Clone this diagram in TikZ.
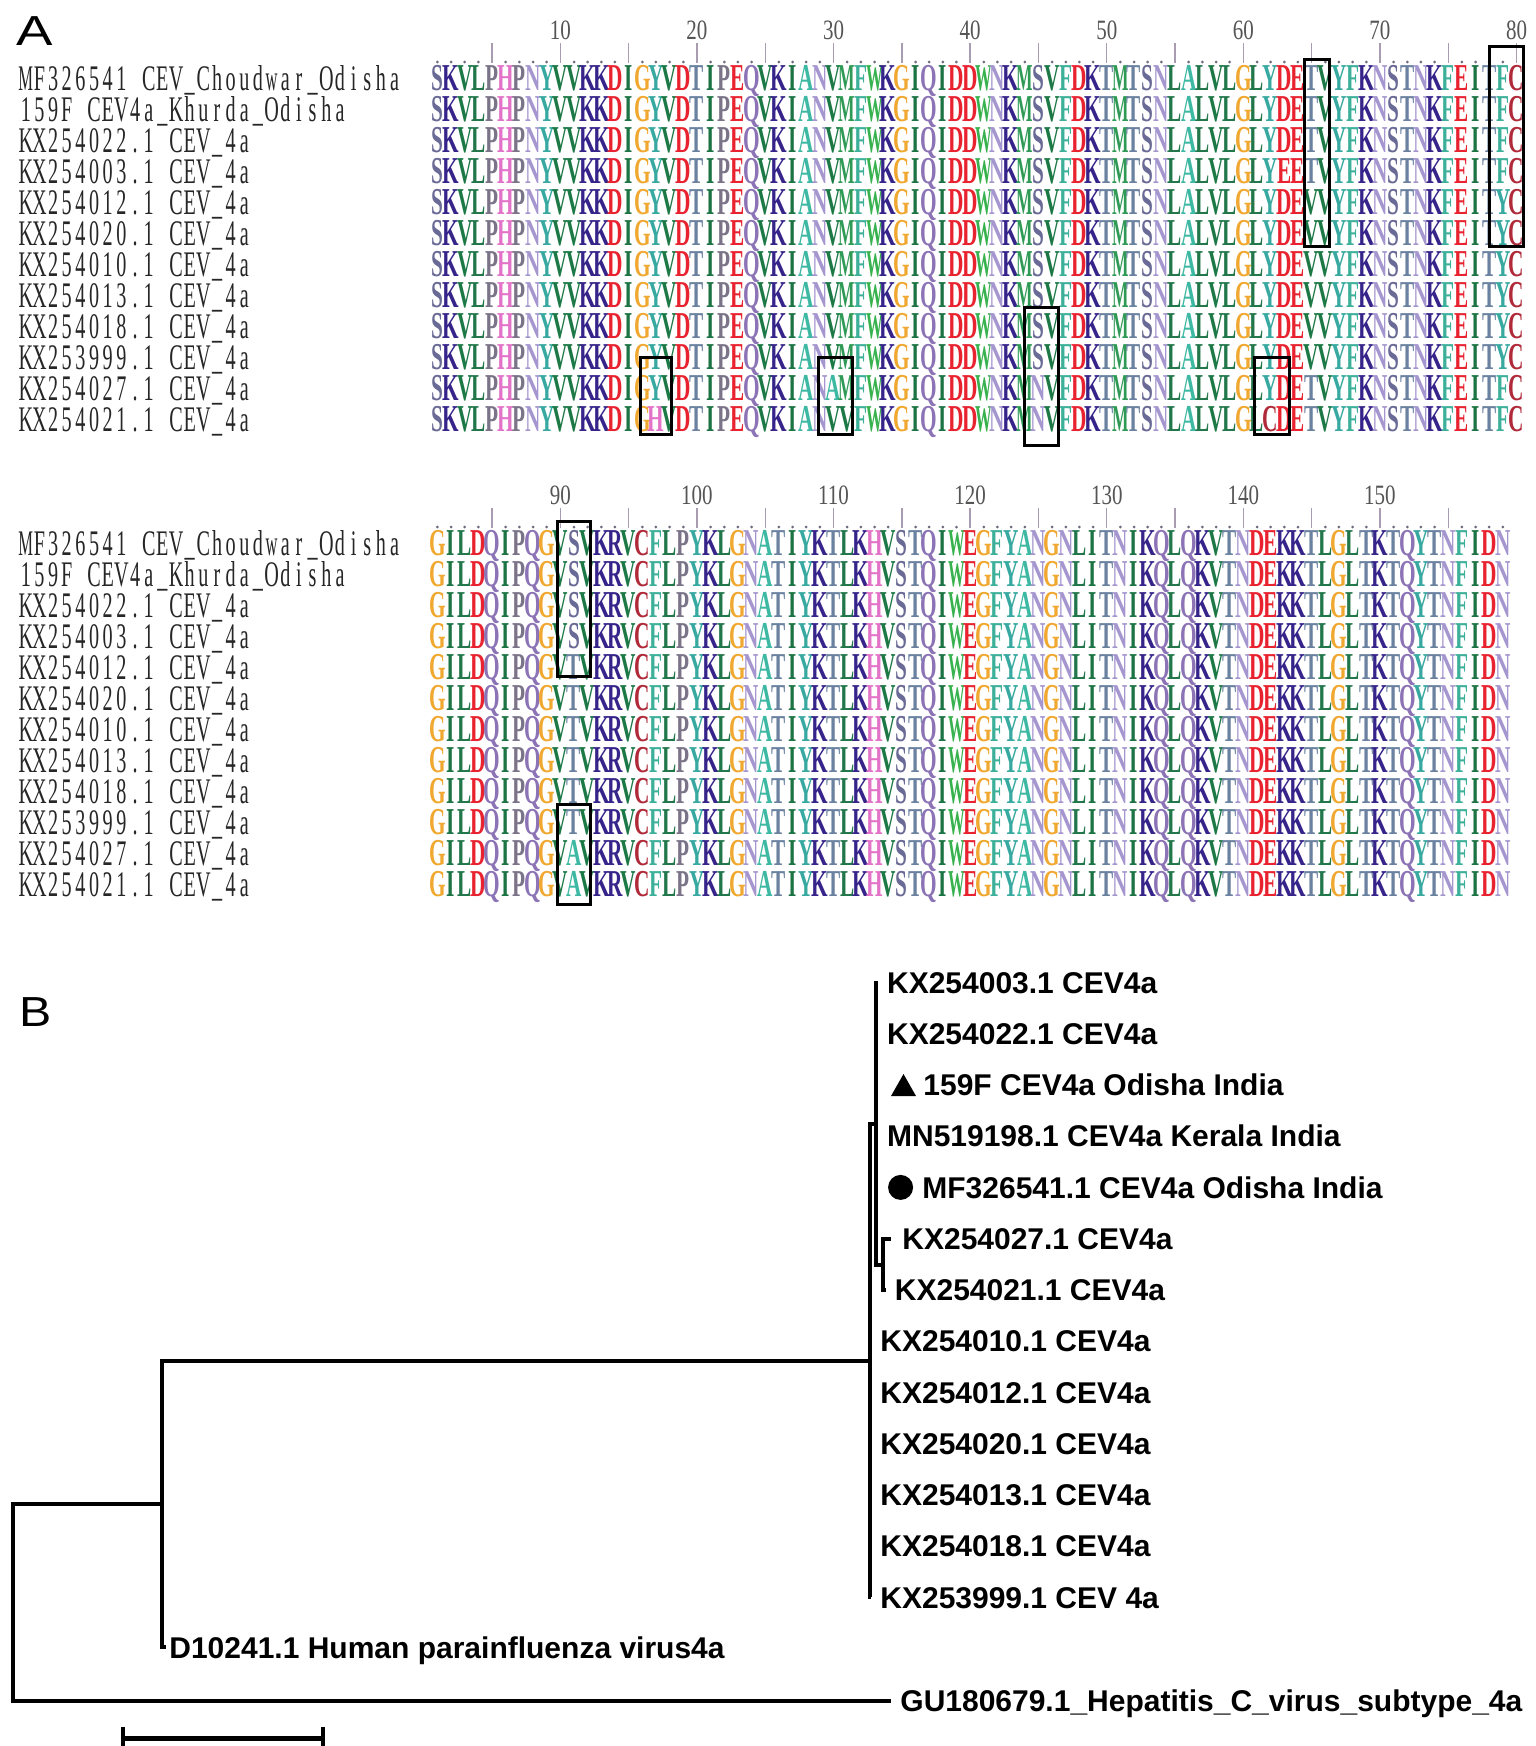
\documentclass[tikz,border=0pt]{standalone}
\usepackage{fontspec}
\setmainfont{Liberation Serif}
\newfontfamily\sansf{Liberation Sans}
\definecolor{rA}{HTML}{3DB8A3}
\definecolor{rC}{HTML}{B02A3A}
\definecolor{rD}{HTML}{E8232F}
\definecolor{rE}{HTML}{E8232F}
\definecolor{rF}{HTML}{3DB09A}
\definecolor{rG}{HTML}{F0A830}
\definecolor{rH}{HTML}{E373C8}
\definecolor{rI}{HTML}{1C7343}
\definecolor{rK}{HTML}{36248A}
\definecolor{rL}{HTML}{21764A}
\definecolor{rM}{HTML}{2F9A55}
\definecolor{rN}{HTML}{A596CF}
\definecolor{rP}{HTML}{7B7488}
\definecolor{rQ}{HTML}{8B73B5}
\definecolor{rR}{HTML}{36248A}
\definecolor{rS}{HTML}{6A6A96}
\definecolor{rT}{HTML}{6A82A0}
\definecolor{rV}{HTML}{1C7946}
\definecolor{rW}{HTML}{38B24E}
\definecolor{rY}{HTML}{38A9A0}
\definecolor{namecol}{HTML}{262626}
\definecolor{rulecol}{HTML}{A89CB0}
\definecolor{dotcol}{HTML}{6A6A7A}
\definecolor{numcol}{HTML}{555555}
\newcount\rescnt
\newcommand\seqfont{\fontsize{19}{19}\selectfont\bfseries}
\newcommand\namefont{\fontsize{18}{18}\selectfont}
\newcommand\numfont{\fontsize{14}{14}\selectfont}
\newcommand\labfont{\sansf\bfseries\fontsize{15}{15}\selectfont}
\newcommand\panelfont{\sansf\fontsize{21}{21}\selectfont}
\newcommand\ResBox[1]{\ifx M#1\def\rs{0.46}\else\ifx W#1\def\rs{0.44}\else\def\rs{0.56}\fi\fi\scalebox{\rs}[1]{#1}}
\newcommand\NmBox[1]{\ifx M#1\def\rs{0.46}\else\ifx m#1\def\rs{0.46}\else\ifx w#1\def\rs{0.46}\else\def\rs{0.56}\fi\fi\fi\scalebox{\rs}[1]{#1}}
\def\SeqRow#1#2#3#4{\global\rescnt=0 \def\SRx{#1}\def\SRy{#2}\def\SRid{#3}\expandafter\SeqLoop#4\relax}
\def\SeqLoop#1{\ifx\relax#1\else\SeqPut{#1}\expandafter\SeqLoop\fi}
\def\SeqPut#1{\node[res,text=r#1] (\SRid-\the\rescnt) at ({\SRx+13.66*\the\rescnt},{\SRy}) {\seqfont\ResBox{#1}};\global\advance\rescnt by 1 }
\def\NameRow#1#2#3#4{\global\rescnt=0 \def\SRx{#1}\def\SRy{#2}\def\SRid{#3}\expandafter\NameLoop#4\relax}
\def\NameLoop#1{\ifx\relax#1\else\NamePut{#1}\expandafter\NameLoop\fi}
\def\NamePut#1{\ifx*#1\else\node[nm] (\SRid-\the\rescnt) at ({\SRx+13.66*\the\rescnt},{\SRy}) {\namefont\NmBox{#1}};\fi\global\advance\rescnt by 1 }
\begin{document}
\catcode`\_=12
\begin{tikzpicture}[x=0.5pt,y=-0.5pt,
  res/.style={anchor=base,inner sep=0pt,outer sep=0pt},
  nm/.style={anchor=base,inner sep=0pt,outer sep=0pt,text=namecol},
  hbox/.style={draw=black,line width=1.5pt},
  rulertick/.style={draw=rulecol,line width=0.7pt},
  numlab/.style={anchor=base,inner sep=0pt,text=numcol},
  treeline/.style={draw=black,line width=2pt,line join=miter},
  lab/.style={anchor=base west,inner sep=0pt,font=\labfont},
  panel/.style={anchor=base,inner sep=0pt,font=\panelfont}]
\useasboundingbox[fill=white] (0,0) rectangle (1536,1746);

% panel labels
\node[panel] (pA) at (34.5,45.7) {\scalebox{1.3}[1]{A}};
\node[panel] (pB) at (35.5,1026) {\scalebox{1.15}[1]{B}};

% ---------- rulers ----------
\foreach \c in {10,20,...,80}{
  \node[numlab] (nt\c) at ({437.4+13.66*(\c-1)},39.5) {\numfont\scalebox{0.75}[1]{\c}};}
\foreach \c/\l in {10/90,20/100,30/110,40/120,50/130,60/140,70/150}{
  \node[numlab] (nb\c) at ({437.4+13.66*(\c-1)},504) {\numfont\scalebox{0.75}[1]{\l}};}
\foreach \c in {5,10,...,80}{
  \draw[rulertick] ({437.4+13.66*(\c-1)},43) -- ++(0,20);}
\foreach \c in {5,10,...,75}{
  \draw[rulertick] ({437.4+13.66*(\c-1)},508) -- ++(0,20);}
\foreach \b in {0,5,...,75}{\foreach \k in {1,...,4}{
  \fill[dotcol] ({437.4+13.66*(\b+\k-1)},62) circle (1.5);
  \fill[dotcol] ({437.4+13.66*(\b+\k-1)},527) circle (1.5);}}

% ---------- top alignment ----------
\foreach \r/\nm/\sq in {
1/MF326541*CEV_Choudwar_Odisha/SKVLPHPNYVVKKDIGYVDTIPEQVKIANVMFWKGIQIDDWNKMSVFDKTMTSNLALVLGLYDETVYFKNSTNKFEITFC,
2/159F*CEV4a_Khurda_Odisha/SKVLPHPNYVVKKDIGYVDTIPEQVKIANVMFWKGIQIDDWNKMSVFDKTMTSNLALVLGLYDETVYFKNSTNKFEITFC,
3/KX254022.1*CEV_4a/SKVLPHPNYVVKKDIGYVDTIPEQVKIANVMFWKGIQIDDWNKMSVFDKTMTSNLALVLGLYDETVYFKNSTNKFEITFC,
4/KX254003.1*CEV_4a/SKVLPHPNYVVKKDIGYVDTIPEQVKIANVMFWKGIQIDDWNKMSVFDKTMTSNLALVLGLYEETVYFKNSTNKFEITFC,
5/KX254012.1*CEV_4a/SKVLPHPNYVVKKDIGYVDTIPEQVKIANVMFWKGIQIDDWNKMSVFDKTMTSNLALVLGLYDEVVYFKNSTNKFEITYC,
6/KX254020.1*CEV_4a/SKVLPHPNYVVKKDIGYVDTIPEQVKIANVMFWKGIQIDDWNKMSVFDKTMTSNLALVLGLYDEVVYFKNSTNKFEITYC,
7/KX254010.1*CEV_4a/SKVLPHPNYVVKKDIGYVDTIPEQVKIANVMFWKGIQIDDWNKMSVFDKTMTSNLALVLGLYDEVVYFKNSTNKFEITYC,
8/KX254013.1*CEV_4a/SKVLPHPNYVVKKDIGYVDTIPEQVKIANVMFWKGIQIDDWNKMSVFDKTMTSNLALVLGLYDEVVYFKNSTNKFEITYC,
9/KX254018.1*CEV_4a/SKVLPHPNYVVKKDIGYVDTIPEQVKIANVMFWKGIQIDDWNKMSVFDKTMTSNLALVLGLYDEVVYFKNSTNKFEITYC,
10/KX253999.1*CEV_4a/SKVLPHPNYVVKKDIGYVDTIPEQVKIANVMFWKGIQIDDWNKMSVFDKTMTSNLALVLGLYDEVVYFKNSTNKFEITYC,
11/KX254027.1*CEV_4a/SKVLPHPNYVVKKDIGYVDTIPEQVKIANAMFWKGIQIDDWNKMNVFDKTMTSNLALVLGLYDETVYFKNSTNKFEITFC,
12/KX254021.1*CEV_4a/SKVLPHPNYVVKKDIGHVDTIPEQVKIANVVFWKGIQIDDWNKMNVFDKTMTSNLALVLGLCDETVYFKNSTNKFEITFC}{
  \NameRow{25.8}{90+31.05*(\r-1)}{na\r}{\nm}
  \SeqRow{437.4}{90+31.05*(\r-1)}{sa\r}{\sq}
}

% ---------- bottom alignment ----------
\foreach \r/\nm/\sq in {
1/MF326541*CEV_Choudwar_Odisha/GILDQIPQGVSVKRVCFLPYKLGNATIYKTLKHVSTQIWEGFYANGNLITNIKQLQKVTNDEKKTLGLTKTQYTNFIDN,
2/159F*CEV4a_Khurda_Odisha/GILDQIPQGVSVKRVCFLPYKLGNATIYKTLKHVSTQIWEGFYANGNLITNIKQLQKVTNDEKKTLGLTKTQYTNFIDN,
3/KX254022.1*CEV_4a/GILDQIPQGVSVKRVCFLPYKLGNATIYKTLKHVSTQIWEGFYANGNLITNIKQLQKVTNDEKKTLGLTKTQYTNFIDN,
4/KX254003.1*CEV_4a/GILDQIPQGVSVKRVCFLPYKLGNATIYKTLKHVSTQIWEGFYANGNLITNIKQLQKVTNDEKKTLGLTKTQYTNFIDN,
5/KX254012.1*CEV_4a/GILDQIPQGVTVKRVCFLPYKLGNATIYKTLKHVSTQIWEGFYANGNLITNIKQLQKVTNDEKKTLGLTKTQYTNFIDN,
6/KX254020.1*CEV_4a/GILDQIPQGVTVKRVCFLPYKLGNATIYKTLKHVSTQIWEGFYANGNLITNIKQLQKVTNDEKKTLGLTKTQYTNFIDN,
7/KX254010.1*CEV_4a/GILDQIPQGVTVKRVCFLPYKLGNATIYKTLKHVSTQIWEGFYANGNLITNIKQLQKVTNDEKKTLGLTKTQYTNFIDN,
8/KX254013.1*CEV_4a/GILDQIPQGVTVKRVCFLPYKLGNATIYKTLKHVSTQIWEGFYANGNLITNIKQLQKVTNDEKKTLGLTKTQYTNFIDN,
9/KX254018.1*CEV_4a/GILDQIPQGVTVKRVCFLPYKLGNATIYKTLKHVSTQIWEGFYANGNLITNIKQLQKVTNDEKKTLGLTKTQYTNFIDN,
10/KX253999.1*CEV_4a/GILDQIPQGVTVKRVCFLPYKLGNATIYKTLKHVSTQIWEGFYANGNLITNIKQLQKVTNDEKKTLGLTKTQYTNFIDN,
11/KX254027.1*CEV_4a/GILDQIPQGVAVKRVCFLPYKLGNATIYKTLKHVSTQIWEGFYANGNLITNIKQLQKVTNDEKKTLGLTKTQYTNFIDN,
12/KX254021.1*CEV_4a/GILDQIPQGVAVKRVCFLPYKLGNATIYKTLKHVSTQIWEGFYANGNLITNIKQLQKVTNDEKKTLGLTKTQYTNFIDN}{
  \NameRow{25.8}{555+31*(\r-1)}{nb\r}{\nm}
  \SeqRow{437.4}{555+31*(\r-1)}{sb\r}{\sq}
}

% ---------- highlight boxes ----------
\draw[hbox] (1304.4,59) rectangle (1329,246);
\draw[hbox] (1489,46.8) rectangle (1523,246);
\draw[hbox] (640.5,357.6) rectangle (671.7,434.4);
\draw[hbox] (818.7,357.6) rectangle (852,434.4);
\draw[hbox] (1024.8,307.4) rectangle (1058,445.6);
\draw[hbox] (1254,357.6) rectangle (1289,434.4);
\draw[hbox] (557,521) rectangle (590,676);
\draw[hbox] (557,804) rectangle (590,904.5);

% ---------- tree ----------
\coordinate (R) at (13,1603.5);
\coordinate (N1) at (161.5,1504);
\coordinate (C0) at (870,1360.5);
\coordinate (S1) at (876,1124);
\coordinate (S2) at (883,1265);
\coordinate (tGU) at (891,1701);
\coordinate (tD1) at (166,1647.4);
\coordinate (t003) at (878,982.5);
\coordinate (t999) at (871,1597.3);
\coordinate (t027) at (891,1238.7);
\coordinate (t021) at (886,1290);
\draw[treeline] (N1) -| (R) |- (tGU);
\draw[treeline] (C0) -| (N1) |- (tD1);
\draw[treeline] (S1) -| (C0) |- (t999);
\draw[treeline] (S2) -| (S1) |- (t003);
\draw[treeline] (S2) |- (t027);
\draw[treeline] (S2) |- (t021);

\node[lab] (l003) at (886.7,993.2) {KX254003.1 CEV4a};
\node[lab] (l022) at (886.7,1044.4) {KX254022.1 CEV4a};
\fill (891,1096) -- (916,1096) -- (903.5,1074) -- cycle;
\node[lab] (l159) at (923,1095.7) {159F CEV4a Odisha India};
\node[lab] (l198) at (886.7,1146.7) {MN519198.1 CEV4a Kerala India};
\fill (900.6,1187.4) circle (12.5);
\node[lab] (l541) at (922,1198.1) {MF326541.1 CEV4a Odisha India};
\node[lab] (l027) at (902,1249.4) {KX254027.1 CEV4a};
\node[lab] (l021) at (894.5,1300.7) {KX254021.1 CEV4a};
\node[lab] (l010) at (880,1351.7) {KX254010.1 CEV4a};
\node[lab] (l012) at (880,1403.1) {KX254012.1 CEV4a};
\node[lab] (l020) at (880,1454.3) {KX254020.1 CEV4a};
\node[lab] (l013) at (880,1505.6) {KX254013.1 CEV4a};
\node[lab] (l018) at (880,1556.7) {KX254018.1 CEV4a};
\node[lab] (l999) at (880,1608) {KX253999.1 CEV 4a};
\node[lab] (lD1) at (169,1658.1) {D10241.1 Human parainfluenza virus4a};
\node[lab] (lGU) at (900,1711.7) {GU180679.1_Hepatitis_C_virus_subtype_4a};

% scale bar
\coordinate (sbL) at (122.5,1738);
\coordinate (sbR) at (323,1738);
\draw[line width=2.5pt] (sbL) -- (sbR);
\draw[line width=2pt] (122.5,1727) -- (122.5,1746);
\draw[line width=2pt] (323,1727) -- (323,1746);
\end{tikzpicture}
\end{document}
